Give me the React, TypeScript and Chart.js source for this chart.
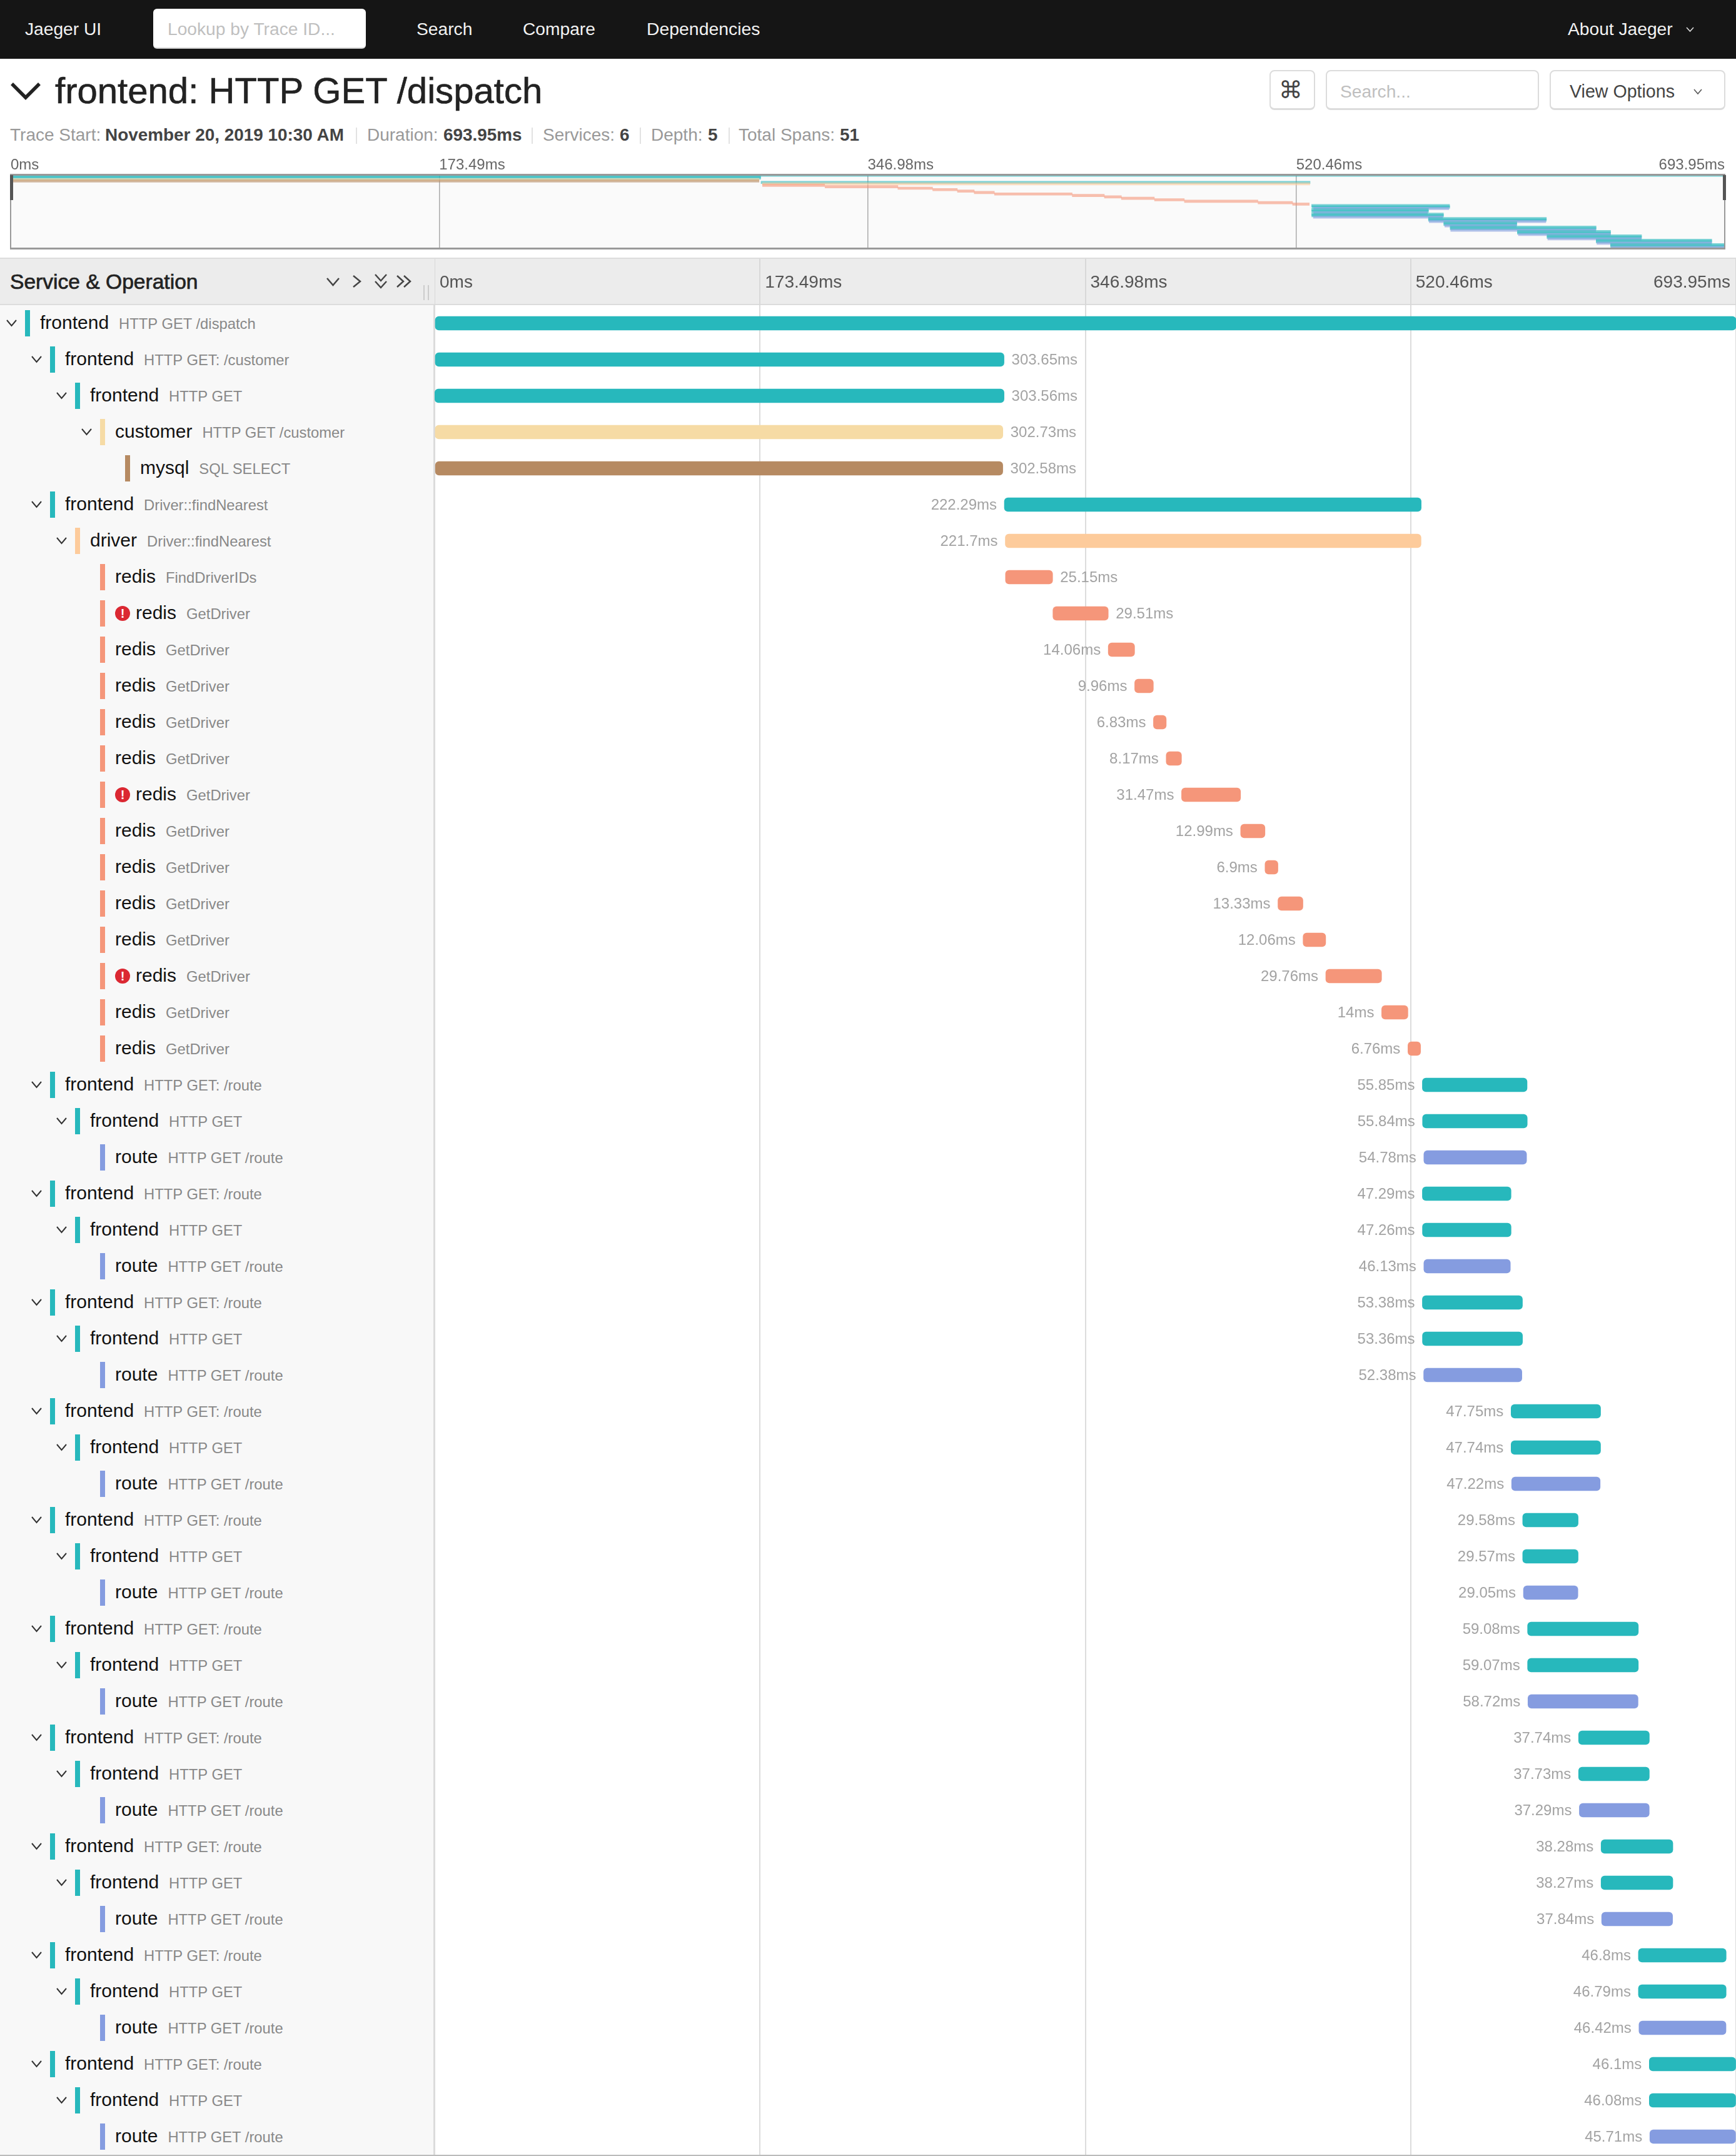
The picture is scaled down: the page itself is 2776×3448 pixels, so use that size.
import { useEffect, useRef } from "react";
import { Chart, registerables, type ChartConfiguration, type Plugin } from "chart.js";

Chart.register(...registerables);

const FONT = '"Liberation Sans", Arial, sans-serif';

const services = [
  "frontend", "frontend", "frontend", "customer", "mysql", "frontend", "driver",
  "redis", "redis", "redis", "redis", "redis", "redis", "redis",
  "redis", "redis", "redis", "redis", "redis", "redis", "redis",
  "frontend", "frontend", "route", "frontend", "frontend", "route",
  "frontend", "frontend", "route", "frontend", "frontend", "route",
  "frontend", "frontend", "route", "frontend", "frontend", "route",
  "frontend", "frontend", "route", "frontend", "frontend", "route",
  "frontend", "frontend", "route", "frontend", "frontend", "route",
];

const operations = [
  "HTTP GET /dispatch", "HTTP GET: /customer", "HTTP GET", "HTTP GET /customer", "SQL SELECT",
  "Driver::findNearest", "Driver::findNearest", "FindDriverIDs",
  "GetDriver", "GetDriver", "GetDriver", "GetDriver", "GetDriver", "GetDriver", "GetDriver",
  "GetDriver", "GetDriver", "GetDriver", "GetDriver", "GetDriver", "GetDriver",
  "HTTP GET: /route", "HTTP GET", "HTTP GET /route", "HTTP GET: /route", "HTTP GET", "HTTP GET /route",
  "HTTP GET: /route", "HTTP GET", "HTTP GET /route", "HTTP GET: /route", "HTTP GET", "HTTP GET /route",
  "HTTP GET: /route", "HTTP GET", "HTTP GET /route", "HTTP GET: /route", "HTTP GET", "HTTP GET /route",
  "HTTP GET: /route", "HTTP GET", "HTTP GET /route", "HTTP GET: /route", "HTTP GET", "HTTP GET /route",
  "HTTP GET: /route", "HTTP GET", "HTTP GET /route", "HTTP GET: /route", "HTTP GET", "HTTP GET /route",
];

const depths = [
  0, 1, 2, 3, 4, 1, 2,
  3, 3, 3, 3, 3, 3, 3, 3, 3, 3, 3, 3, 3, 3,
  1, 2, 3, 1, 2, 3, 1, 2, 3, 1, 2, 3, 1, 2, 3,
  1, 2, 3, 1, 2, 3, 1, 2, 3, 1, 2, 3, 1, 2, 3,
];

// ms
const starts = [
  0, 0, 0.1, 0.3, 0.4, 303.8, 304.3,
  304.4, 329.7, 359.2, 373.3, 383.3, 390.1, 398.3,
  429.8, 442.8, 449.7, 463.1, 475.2, 505, 519,
  526.7, 526.8, 527.5, 526.7, 526.75, 527.5,
  526.7, 526.75, 527.4, 574, 574, 574.3,
  580.2, 580.2, 580.6, 582.8, 582.8, 583,
  610, 610, 610.4, 622, 622, 622.3,
  641.9, 641.9, 642.2, 647.7, 647.7, 648,
];

const durations = [
  693.95, 303.65, 303.56, 302.73, 302.58, 222.29, 221.7,
  25.15, 29.51, 14.06, 9.96, 6.83, 8.17, 31.47,
  12.99, 6.9, 13.33, 12.06, 29.76, 14, 6.76,
  55.85, 55.84, 54.78, 47.29, 47.26, 46.13,
  53.38, 53.36, 52.38, 47.75, 47.74, 47.22,
  29.58, 29.57, 29.05, 59.08, 59.07, 58.72,
  37.74, 37.73, 37.29, 38.28, 38.27, 37.84,
  46.8, 46.79, 46.42, 46.1, 46.08, 45.71,
];

const errorRows = [8, 13, 18];
const labelRightRows = [1, 2, 3, 4, 7, 8];
const timeTicks = [0, 173.49, 346.98, 520.46, 693.95];

const SERVICE_COLORS: Record<string, string> = {
  frontend: "#27b8bc",
  customer: "#f6dba5",
  mysql: "#b68a62",
  driver: "#fdcb9b",
  redis: "#f5967a",
  route: "#859ce0",
};

const barData = starts.map((s, i) => [s, s + durations[i]] as [number, number]);
const rowColors = services.map((s) => SERVICE_COLORS[s]);

function tickLabels(fontSize: number, color: string, y: number, inset: number, lastInset: number): Plugin<"bar"> {
  return {
    id: "tickLabels",
    afterDraw(chart) {
      const { ctx, scales } = chart;
      const scale = scales.x;
      ctx.save();
      ctx.font = `${fontSize}px ${FONT}`;
      ctx.fillStyle = color;
      ctx.textBaseline = "middle";
      timeTicks.forEach((t, i) => {
        const last = i === timeTicks.length - 1;
        ctx.textAlign = last ? "right" : "left";
        const px = scale.getPixelForValue(t);
        ctx.fillText(`${t}ms`, last ? px - lastInset : px + inset, y);
      });
      ctx.restore();
    },
  };
}

const durationLabels: Plugin<"bar"> = {
  id: "durationLabels",
  afterDatasetsDraw(chart) {
    const { ctx } = chart;
    const bars = chart.getDatasetMeta(0).data as any[];
    ctx.save();
    ctx.font = `24px ${FONT}`;
    ctx.fillStyle = "#a3a3a3";
    ctx.textBaseline = "middle";
    bars.forEach((bar, i) => {
      if (i === 0) return;
      const right = labelRightRows.includes(i);
      ctx.textAlign = right ? "left" : "right";
      ctx.fillText(`${durations[i]}ms`, right ? bar.x + 12 : bar.base - 12, bar.y + 1.5);
    });
    ctx.restore();
  },
};

function baseOptions() {
  return {
    indexAxis: "y" as const,
    responsive: false,
    animation: false as const,
    devicePixelRatio: 1,
    plugins: { legend: { display: false }, tooltip: { enabled: false } },
  };
}

const timelineConfig: ChartConfiguration<"bar"> = {
  type: "bar",
  data: {
    labels: services.map((_, i) => String(i)),
    datasets: [
      {
        data: barData as any,
        backgroundColor: rowColors,
        barThickness: 22,
        borderRadius: 6,
        borderSkipped: false,
      },
    ],
  },
  options: {
    ...baseOptions(),
    scales: {
      x: {
        type: "linear",
        position: "top",
        min: 0,
        max: 693.95,
        afterBuildTicks(scale) {
          scale.ticks = timeTicks.map((value) => ({ value }));
        },
        ticks: { display: false },
        border: { display: false },
        grid: { color: "#dcdcdc", lineWidth: 2, drawTicks: true, tickLength: 74, tickColor: "#d8d8d8", tickWidth: 2 },
      },
      y: { display: false },
    },
  },
  plugins: [durationLabels, tickLabels(28, "#555555", 38.5, 8, 9)],
};

const minimapConfig: ChartConfiguration<"bar"> = {
  type: "bar",
  data: {
    labels: services.map((_, i) => String(i)),
    datasets: [
      {
        data: barData as any,
        backgroundColor: rowColors.map((c) => c + "99"),
        barThickness: 4,
        borderSkipped: false,
      },
    ],
  },
  options: {
    ...baseOptions(),
    layout: { padding: { top: 34 } },
    scales: {
      x: {
        type: "linear",
        min: 0,
        max: 693.95,
        afterBuildTicks(scale) {
          scale.ticks = timeTicks.map((value) => ({ value }));
        },
        ticks: { display: false },
        border: { display: false },
        grid: { color: "#aaaaaa", lineWidth: 1.5, drawTicks: false },
      },
      y: { display: false },
    },
  },
  plugins: [tickLabels(24, "#666666", 19, 0, 0)],
};

function ChartCanvas({ config, left, top, width, height }: { config: ChartConfiguration<"bar">; left: number; top: number; width: number; height: number }) {
  const ref = useRef<HTMLCanvasElement>(null);
  useEffect(() => {
    if (!ref.current) return;
    const chart = new Chart(ref.current, config);
    return () => chart.destroy();
  }, [config]);
  return <canvas ref={ref} width={width} height={height} style={{ position: "absolute", left, top, width, height }} />;
}

function Txt({ x, y, size, color, children, bold, stroke, family }: any) {
  return (
    <span
      style={{
        position: "absolute",
        left: x,
        top: y - 30,
        height: 60,
        lineHeight: "60px",
        fontSize: size,
        color,
        whiteSpace: "nowrap",
        fontWeight: bold ? 700 : 400,
        fontFamily: family || FONT,
        WebkitTextStroke: stroke ? `${stroke}px ${color}` : undefined,
      }}
    >
      {children}
    </span>
  );
}

function Chevron({ x, y, w, h, dir = "down", color = "#333", sw = 2.5 }: any) {
  const pts =
    dir === "down"
      ? `1,1 ${w / 2},${h - 1} ${w - 1},1`
      : `1,1 ${w - 1},${h / 2} 1,${h - 1}`;
  return (
    <svg width={w} height={h} style={{ position: "absolute", left: x, top: y, overflow: "visible" }}>
      <polyline points={pts} fill="none" stroke={color} strokeWidth={sw} />
    </svg>
  );
}

function Box({ x, y, w, h, children }: any) {
  return (
    <div
      style={{
        position: "absolute",
        left: x,
        top: y,
        width: w,
        height: h,
        boxSizing: "border-box",
        border: "2px solid #dcdcdc",
        borderBottomWidth: 3,
        borderRadius: 8,
        background: "#fff",
      }}
    >
      {children}
    </div>
  );
}

const ROWS_TOP = 488;
const ROW_H = 58;

function SpanRow({ i }: { i: number }) {
  const depth = depths[i];
  const barX = 40 + depth * 40;
  const hasKids = depths[i + 1] > depth;
  const err = errorRows.includes(i);
  const cy = ROW_H / 2;
  return (
    <div style={{ position: "absolute", left: 0, top: ROWS_TOP + i * ROW_H, width: 695, height: ROW_H }}>
      {hasKids && <Chevron x={barX - 30} y={cy - 6} w={17} h={11} sw={2} />}
      <div style={{ position: "absolute", left: barX, top: cy - 21, width: 8, height: 42, background: SERVICE_COLORS[services[i]] }} />
      <div
        style={{
          position: "absolute",
          left: barX + 24,
          top: 0,
          height: ROW_H,
          lineHeight: `${ROW_H - 2}px`,
          whiteSpace: "nowrap",
          fontFamily: FONT,
          display: "flex",
          alignItems: "baseline",
        }}
      >
        {err && (
          <span
            style={{
              display: "inline-block",
              alignSelf: "center",
              width: 24,
              height: 24,
              lineHeight: "24px",
              marginRight: 9,
              borderRadius: 12,
              background: "#db2832",
              color: "#fff",
              fontSize: 20,
              fontWeight: 700,
              textAlign: "center",
            }}
          >
            !
          </span>
        )}
        <span style={{ fontSize: 30, color: "#111" }}>{services[i]}</span>
        <span style={{ fontSize: 23.8, color: "#888", marginLeft: 16 }}>{operations[i]}</span>
      </div>
    </div>
  );
}

export default function App() {
  return (
    <div style={{ position: "relative", width: 2776, height: 3448, overflow: "hidden", background: "#fff", fontFamily: FONT }}>
      <style>{"body{margin:0}"}</style>

      {/* top nav */}
      <div style={{ position: "absolute", left: 0, top: 0, width: 2776, height: 94, background: "#151515" }} />
      <Txt x={40} y={46} size={28.2} color="#f2f2f2">Jaeger UI</Txt>
      <div style={{ position: "absolute", left: 245, top: 14, width: 340, height: 64, boxSizing: "border-box", background: "#fff", borderRadius: 6, borderBottom: "2px solid #d0d0d0" }} />
      <Txt x={268} y={46} size={28.2} color="#bfbfbf">Lookup by Trace ID...</Txt>
      <Txt x={666} y={46} size={28.2} color="#f2f2f2">Search</Txt>
      <Txt x={836} y={46} size={28.2} color="#f2f2f2">Compare</Txt>
      <Txt x={1034} y={46} size={28.4} color="#f2f2f2">Dependencies</Txt>
      <Txt x={2507} y={46} size={28.2} color="#f2f2f2">About Jaeger</Txt>
      <Chevron x={2696} y={43} w={13} h={8} color="#ddd" sw={1.6} />

      {/* trace title */}
      <Chevron x={18} y={133} w={46} h={24} color="#222" sw={5.5} />
      <Txt x={88} y={145} size={58.1} color="#222" stroke={0.6}>frontend: HTTP GET /dispatch</Txt>
      <Box x={2030} y={112} w={73} h={64}>
        <Txt x={13} y={30} size={38} color="#444" family='"DejaVu Sans"'>⌘</Txt>
      </Box>
      <Box x={2120} y={112} w={341} h={64} />
      <Txt x={2143} y={146} size={28.2} color="#bfbfbf">Search...</Txt>
      <Box x={2478} y={112} w={281} h={64} />
      <Txt x={2510} y={146} size={28.6} color="#444">View Options</Txt>
      <Chevron x={2708} y={142} w={14} h={9} color="#555" sw={1.6} />

      {/* trace stats */}
      <Txt x={16} y={216} size={28} color="#999">Trace Start:</Txt>
      <Txt x={168} y={216} size={27.9} color="#444" bold>November 20, 2019 10:30 AM</Txt>
      <Txt x={587} y={216} size={28} color="#999">Duration:</Txt>
      <Txt x={709} y={216} size={27.9} color="#444" bold>693.95ms</Txt>
      <Txt x={868} y={216} size={28} color="#999">Services:</Txt>
      <Txt x={991} y={216} size={27.9} color="#444" bold>6</Txt>
      <Txt x={1041} y={216} size={28} color="#999">Depth:</Txt>
      <Txt x={1132} y={216} size={27.9} color="#444" bold>5</Txt>
      <Txt x={1181} y={216} size={28} color="#999">Total Spans:</Txt>
      <Txt x={1343} y={216} size={27.9} color="#444" bold>51</Txt>
      {[569, 850, 1023, 1165].map((x) => (
        <div key={x} style={{ position: "absolute", left: x, top: 204, width: 2, height: 26, background: "#e2e2e2" }} />
      ))}

      {/* minimap */}
      <div style={{ position: "absolute", left: 17, top: 279, width: 2741, height: 118, background: "#fafafa" }} />
      <ChartCanvas config={minimapConfig} left={17} top={245} width={2741} height={152} />
      <div style={{ position: "absolute", left: 16, top: 278, width: 2743, height: 121, boxSizing: "border-box", borderTop: "3px solid #999", borderBottom: "3px solid #999", borderLeft: "2px solid #999", borderRight: "2px solid #999" }} />
      <div style={{ position: "absolute", left: 16, top: 280, width: 5, height: 40, background: "#555" }} />
      <div style={{ position: "absolute", left: 2755, top: 280, width: 5, height: 40, background: "#555" }} />

      {/* span list panel */}
      <div style={{ position: "absolute", left: 0, top: 412, width: 2776, height: 76, boxSizing: "border-box", background: "#ececec", borderTop: "2px solid #dcdcdc", borderBottom: "2px solid #dcdcdc" }} />
      <div style={{ position: "absolute", left: 0, top: 488, width: 695, height: 2958, boxSizing: "border-box", background: "#f8f8f8", borderRight: "2px solid #dcdcdc" }} />
      <Txt x={16} y={451} size={33.6} color="#222" stroke={0.7}>Service &amp; Operation</Txt>
      <Chevron x={522} y={444} w={21} h={13} color="#444" />
      <Chevron x={564} y={440} w={13} h={20} dir="right" color="#444" />
      <Chevron x={599} y={438} w={20} h={12} color="#444" />
      <Chevron x={599} y={449} w={20} h={12} color="#444" />
      <Chevron x={634} y={440} w={12} h={20} dir="right" color="#444" />
      <Chevron x={645} y={440} w={12} h={20} dir="right" color="#444" />
      <div style={{ position: "absolute", left: 677, top: 456, width: 2, height: 24, background: "#ccc" }} />
      <div style={{ position: "absolute", left: 684, top: 456, width: 2, height: 24, background: "#ccc" }} />
      {services.map((_, i) => (
        <SpanRow key={i} i={i} />
      ))}

      <ChartCanvas config={timelineConfig} left={695} top={414} width={2081} height={3032} />
      <div style={{ position: "absolute", left: 0, top: 3446, width: 2776, height: 2, background: "#bbb" }} />
    </div>
  );
}
